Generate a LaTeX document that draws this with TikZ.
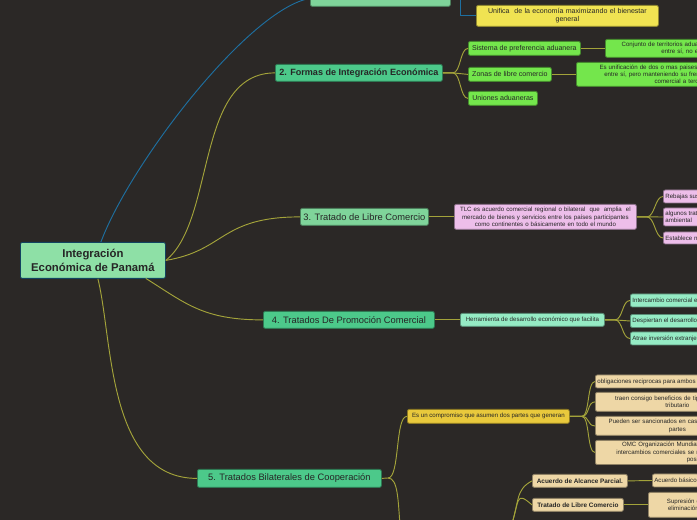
\documentclass[tikz,border=0pt]{standalone}
\usepackage{fontspec}
\setmainfont{Liberation Sans}
\hyphenpenalty=10000 \exhyphenpenalty=10000
\begin{document}
\begin{tikzpicture}[x=0.75pt,y=-0.75pt,
  box/.style={draw=#1!60!black,rounded corners=1.5pt,line width=0.6pt,inner sep=1.5pt,align=center,text=black!85,anchor=north west},
  br/.style={box=#1,fill=#1,font=\fontsize{7}{9}\selectfont},
  sm/.style={box=#1,fill=#1,font=\fontsize{5.3}{6.3}\selectfont},
  tn/.style={box=#1,fill=#1,font=\fontsize{4.6}{5.4}\selectfont},
  ln/.style={draw=lineY,line width=0.7pt},
]
\definecolor{bg}{HTML}{2B2826}
\definecolor{lineY}{HTML}{A3A33A}
\definecolor{lineB}{HTML}{1E6FA0}
\definecolor{rootG}{HTML}{8EE0A6}
\definecolor{brG}{HTML}{4CC98A}
\definecolor{brL}{HTML}{7FD49A}
\definecolor{yel}{HTML}{F0E352}
\definecolor{grn}{HTML}{74E64C}
\definecolor{pnk}{HTML}{EDBEEA}
\definecolor{mint}{HTML}{95EBC4}
\definecolor{gold}{HTML}{E9C93C}
\definecolor{tan}{HTML}{EED7A6}
\clip (0,0) rectangle (697,520);
\fill[bg] (0,0) rectangle (697,520);
% nodes
\node[box=lineB,fill=rootG,font=\bfseries\fontsize{8.5}{10}\selectfont,minimum width=145*0.75pt,minimum height=36*0.75pt] (root) at (20,242) {Integración\\Económica de Panamá};
\node[br=brL,minimum width=140*0.75pt,minimum height=16*0.75pt] (b1) at (310,-10) {};
\node[sm=yel,text width=178*0.75pt,minimum height=21*0.75pt] (u) at (476,5) {Unifica\ \ de la economía maximizando el bienestar\\general};
\node[br=brG,font=\bfseries\fontsize{6.8}{9}\selectfont,minimum width=167*0.75pt,minimum height=17*0.75pt] (b2) at (275,64) {2. Formas de Integración Económica};
\node[sm=grn,minimum width=112*0.75pt,minimum height=14*0.75pt] (s1) at (468,41) {Sistema de preferencia aduanera};
\node[sm=grn,minimum width=83*0.75pt,minimum height=14*0.75pt] (s2) at (468,67) {Zonas de libre comercio};
\node[sm=grn,minimum width=69*0.75pt,minimum height=14*0.75pt] (s3) at (468,91) {Uniones aduaneras};
\node[tn=grn,text width=200*0.75pt,minimum height=18*0.75pt] (c1) at (605,39) {Conjunto de territorios aduaneros que se otorgan preferencias\\entre sí, no extensivas a terceros};
\node[tn=grn,text width=210*0.75pt,minimum height=24*0.75pt] (c2) at (576,62) {Es unificación de dos o mas paises, que suprimen aranceles\\entre sí, pero manteniendo su frente en arancel y política\\comercial a terceros.};
\node[br=brL,minimum width=128*0.75pt,minimum height=17*0.75pt] (b3) at (300,208) {3. Tratado de Libre Comercio};
\node[tn=pnk,text width=178*0.75pt,minimum height=25*0.75pt] (t) at (454,204) {TLC es acuerdo comercial regional o bilateral\ \ que\ \ amplia\ \ el mercado de bienes y servicios entre los países participantes como continentes o básicamente en todo el mundo};
\node[tn=pnk,anchor=west,minimum height=13*0.75pt,align=left] (t1) at (663,196.5) {Rebajas sustanciales de aranceles};
\node[tn=pnk,anchor=west,minimum height=18*0.75pt,align=left] (t2) at (663,217) {algunos tratados incluyen aspectos laborales y\\ambiental};
\node[tn=pnk,anchor=west,minimum height=12*0.75pt,align=left] (t3) at (663,238) {Establece normas};
\node[br=brG,minimum width=171*0.75pt,minimum height=17*0.75pt] (b4) at (263,311) {4. Tratados De Promoción Comercial};
\node[tn=mint,minimum width=144*0.75pt,minimum height=13*0.75pt] (h) at (460,313) {Herramienta de desarrollo económico que facilita};
\node[tn=mint,anchor=west,minimum height=13*0.75pt] (h1) at (630,300.5) {Intercambio comercial entre países};
\node[tn=mint,anchor=west,minimum height=13*0.75pt] (h2) at (630,321) {Despiertan el desarrollo económico};
\node[tn=mint,anchor=west,minimum height=13*0.75pt] (h3) at (630,338.5) {Atrae inversión extranjera};
\node[br=brG,minimum width=184*0.75pt,minimum height=18*0.75pt] (b5) at (197,469) {5. Tratados Bilaterales de Cooperación};
\node[tn=gold,minimum width=162*0.75pt,minimum height=14*0.75pt] (e) at (407,409) {Es un compromiso que asumen dos partes que generan};
\node[tn=tan,anchor=west,minimum height=13*0.75pt] (o1) at (595,381.5) {obligaciones reciprocas para ambos estados};
\node[tn=tan,text width=160*0.75pt,minimum height=19*0.75pt] (o2) at (595,392) {traen consigo beneficios de tipo económico y\\tributario};
\node[tn=tan,text width=160*0.75pt,minimum height=19*0.75pt] (o3) at (595,416) {Pueden ser sancionados en caso de incumplir las\\partes};
\node[tn=tan,text width=200*0.75pt,minimum height=24*0.75pt] (o4) at (595,440) {OMC Organización Mundial de\ \ Comercio vela que los\\intercambios comerciales se realicen de la forma mas libre\\posible.};
\node[tn=tan,font=\bfseries\fontsize{4.8}{5.5}\selectfont,minimum width=95*0.75pt,minimum height=13*0.75pt] (a1) at (532,474) {Acuerdo de Alcance Parcial.};
\node[tn=tan,anchor=west,minimum height=13*0.75pt] (a2) at (652,480.5) {Acuerdo básico};
\node[tn=tan,font=\bfseries\fontsize{4.8}{5.5}\selectfont,minimum width=91*0.75pt,minimum height=13*0.75pt] (a3) at (532,498) {Tratado de Libre Comercio};
\node[tn=tan,text width=100*0.75pt,minimum height=25*0.75pt] (a4) at (648,492) {Supresión de aranceles,\\eliminación o reducción};
% connectors
\draw[draw=lineB,line width=0.7pt] (root.north) ++(8,0) .. controls +(30,-80) and +(-60,10) .. (b1.west);
\draw[draw=lineB,line width=0.7pt] (b1.east) -- ++(10,0) |- (u.west);
\draw[ln] (root.east) .. controls +(50,-40) and +(-80,0) .. (b2.west);
\draw[ln] (root.east) .. controls +(60,-10) and +(-80,0) .. (b3.west);
\draw[ln] (root.east) ++(-20,18) .. controls +(40,25) and +(-60,0) .. (b4.west);
\draw[ln] (root.south) ++(5,0) .. controls +(15,60) and +(-90,0) .. (b5.west);
\foreach \n in {s1,s2,s3} \draw[ln] (b2.east) -- ++(10,0) .. controls +(8,0) and +(-8,0) .. (\n.west);
\draw[ln] (s1.east) -- (c1.west);
\draw[ln] (s2.east) -- (c2.west);
\draw[ln] (b3.east) -- (t.west);
\foreach \n in {t1,t2,t3} \draw[ln] (t.east) -- ++(10,0) .. controls +(8,0) and +(-8,0) .. (\n.west);
\draw[ln] (b4.east) -- (h.west);
\foreach \n in {h1,h2,h3} \draw[ln] (h.east) -- ++(10,0) .. controls +(8,0) and +(-8,0) .. (\n.west);
\draw[ln] (b5.east) -- (388,478) .. controls (400,478) and (395,416) .. (e.west);
\draw[ln] (388,478) .. controls (398,478) and (398,500) .. (400,525);
\foreach \n in {o1,o2,o3,o4} \draw[ln] (e.east) -- ++(12,0) .. controls +(8,0) and +(-8,0) .. (\n.west);
\foreach \n in {a1,a3} \draw[ln] (510,530) .. controls (520,500) and (515,490) .. (\n.west);
\draw[ln] (a1.east) -- (a2.west);
\draw[ln] (a3.east) -- (a4.west);
\end{tikzpicture}
\end{document}
